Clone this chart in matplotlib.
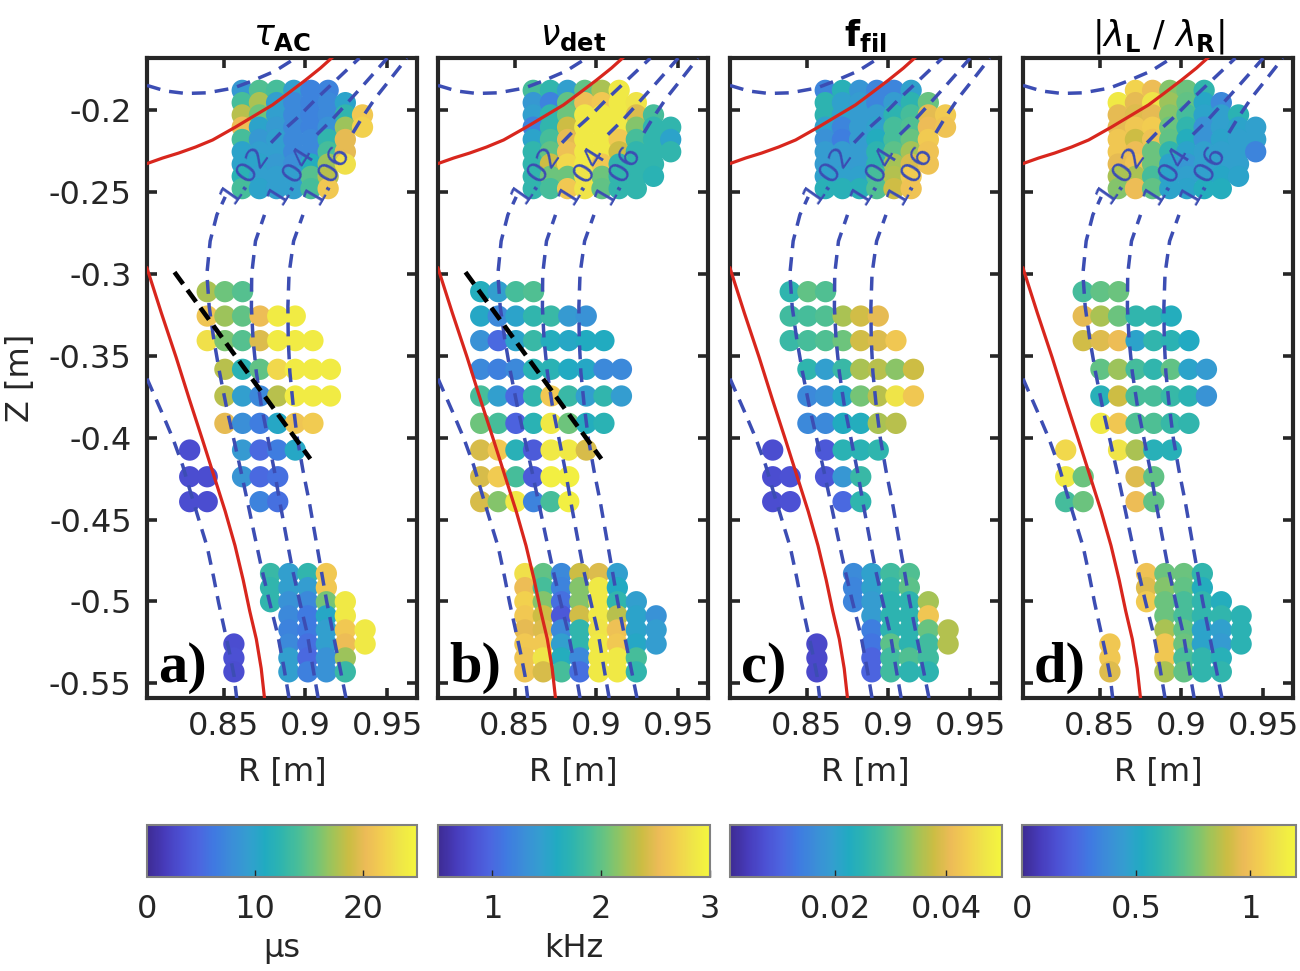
import numpy as np
import matplotlib
matplotlib.use("Agg")
import matplotlib.pyplot as plt
from matplotlib.colors import LinearSegmentedColormap, Normalize
from matplotlib.cm import ScalarMappable

plt.rcParams['font.family'] = ['DejaVu Sans']
plt.rcParams['mathtext.fontset'] = 'dejavusans'
plt.rcParams['axes.unicode_minus'] = False

nan = np.nan

# ---------------- text / colour scales ----------------
panel_titles = [r'$\tau_{\mathbf{AC}}$', r'$\nu_{\mathbf{det}}$',
                r'$\mathbf{f_{fil}}$', r'$|\lambda_{\mathbf{L}}\ /\ \lambda_{\mathbf{R}}|$']
panel_letters = ['a)', 'b)', 'c)', 'd)']
cbar_ranges = [(0.0, 25.0), (0.5, 3.0), (0.001, 0.05), (0.0, 1.2)]
cbar_ticks = [[0, 10, 20], [1, 2, 3], [0.02, 0.04], [0, 0.5, 1]]
cbar_ticklabels = [['0', '10', '20'], ['1', '2', '3'], ['0.02', '0.04'], ['0', '0.5', '1']]
cbar_units = ['μs', 'kHz', '', '']
x_ticks = [0.85, 0.9, 0.95]
x_ticklabels = ['0.85', '0.9', '0.95']
y_ticks = [-0.55, -0.5, -0.45, -0.4, -0.35, -0.3, -0.25, -0.2]
y_ticklabels = ['-0.55', '-0.5', '-0.45', '-0.4', '-0.35', '-0.3', '-0.25', '-0.2']
contour_labels = ['1.02', '1.04', '1.06']

# ---------------- probe grids (R, Z in m) ----------------
top_R = [0.8614, 0.8719, 0.8824, 0.8929, 0.9034, 0.9139, 0.9244, 0.9349, 0.9454]
top_Z = [-0.1880, -0.1955, -0.2030, -0.2105, -0.2180, -0.2255, -0.2330, -0.2405, -0.2480]
mid_R = [0.8293, 0.8400, 0.8508, 0.8616, 0.8723, 0.8831, 0.8938, 0.9046, 0.9153]
mid_Z = [-0.3109, -0.3258, -0.3408, -0.3583, -0.3746, -0.3913, -0.4076, -0.4239, -0.4391]
bot_R = [0.8563, 0.8675, 0.8787, 0.8899, 0.9015, 0.9128, 0.9244, 0.9365]
bot_Z = [-0.4830, -0.4916, -0.5002, -0.5088, -0.5174, -0.5260, -0.5345, -0.5430]

# ---------------- a) tau_AC [us] ----------------
tau_top = [  # one list per R column (top_R), entries along top_Z
    [8.8, 13.8, 18.0, 20.5, 13.8, 10.0, 10.0, 12.0, 13.8],
    [14.3, 17.5, 15.5, 10.0, 8.8, 9.5, 10.0, 9.5, 10.0],
    [13.8, 9.5, 9.5, 9.0, 9.5, 9.5, 9.0, 9.5, 9.5],
    [9.5, 7.5, 7.5, 7.5, 7.5, 7.5, 8.0, 9.5, 9.5],
    [7.0, 7.0, 7.0, 7.0, 7.5, 7.5, 11.3, 14.5, 13.8],
    [7.0, 7.5, 7.5, 8.3, 12.5, 13.8, 17.0, 18.0, 21.3],
    [nan, 10.0, 12.5, 17.0, 20.0, 20.0, 23.0, nan, nan],
    [nan, nan, 21.3, 22.0, nan, nan, nan, nan, nan],
    [nan, nan, nan, nan, nan, nan, nan, nan, nan],
]
tau_mid = [  # one list per Z row (mid_Z), entries along mid_R
    [nan, 17.5, 15.5, 14.5, nan, nan, nan, nan, nan],
    [nan, 21.0, 17.0, 15.0, 20.5, 24.0, 24.0, nan, nan],
    [nan, 23.0, 16.0, 14.5, 19.5, 24.0, 24.0, 24.0, nan],
    [nan, nan, 18.0, 12.0, 15.0, 22.5, 24.0, 24.0, 24.0],
    [nan, nan, 18.0, 9.5, 7.5, 18.0, 24.0, 24.0, 24.0],
    [nan, nan, 20.0, 8.0, 6.5, 10.5, 21.0, 21.5, nan],
    [3.0, nan, nan, 9.0, 5.0, 6.5, 10.5, nan, nan],
    [3.0, 3.0, nan, 8.5, 5.0, 5.5, nan, nan, nan],
    [3.0, 3.0, nan, nan, 7.0, 5.5, nan, nan, nan],
]
tau_bot = [  # one list per R column (bot_R), entries along bot_Z
    [nan, nan, nan, nan, nan, 3.0, 3.2, 3.0],
    [nan, nan, nan, nan, nan, nan, nan, nan],
    [13.0, 12.5, 12.5, nan, nan, nan, nan, nan],
    [9.5, 9.5, 8.3, 7.5, 7.0, 7.5, 9.5, 9.5],
    [12.5, 9.3, 7.5, 6.3, 6.3, 5.5, 5.0, 6.8],
    [21.3, 21.3, 15.8, 10.5, 9.5, 9.5, 8.3, 8.3],
    [nan, nan, 23.8, 23.8, 21.3, 20.5, 17.0, 13.0],
    [nan, nan, nan, nan, 23.8, 23.8, nan, nan],
]

# ---------------- b) nu_det [kHz] ----------------
nu_top = [
    [1.88, 1.38, 1.45, 1.20, 1.50, 1.75, 1.75, 1.75, 1.75],
    [1.75, 1.20, 1.75, 1.75, 1.88, 2.00, 2.38, 2.05, 1.88],
    [1.45, 2.00, 2.05, 2.38, 2.50, 2.58, 2.75, 2.05, 2.63],
    [2.00, 2.58, 2.88, 2.88, 2.88, 2.88, 2.88, 2.83, 2.83],
    [2.25, 2.63, 2.88, 2.88, 2.88, 2.88, 2.63, 2.05, 2.00],
    [2.88, 2.88, 2.88, 2.88, 2.63, 2.38, 1.75, 1.75, 1.75],
    [nan, 2.83, 2.45, 2.13, 1.88, 1.75, 1.75, 1.75, 1.75],
    [nan, nan, 1.88, 1.75, 1.75, 1.75, 1.75, 1.70, nan],
    [nan, nan, nan, 1.75, 1.50, 1.75, nan, nan, nan],
]
nu_mid = [
    [1.63, 1.45, 1.88, 1.93, nan, nan, nan, nan, nan],
    [1.55, 1.25, 1.50, 1.75, 1.80, 1.40, 1.33, nan, nan],
    [1.33, 1.00, 1.50, 1.80, 1.63, 1.55, 1.60, 1.60, nan],
    [1.25, 1.18, 1.25, 1.70, 1.70, 1.58, 1.55, 1.25, 1.25],
    [1.88, 1.45, 1.00, 1.75, 2.63, 1.80, 1.45, 1.75, 1.43],
    [2.05, 1.88, 0.95, 1.70, 2.88, 2.05, 1.63, 1.70, nan],
    [2.43, 2.63, 1.68, 0.90, 2.88, 2.88, 2.43, nan, nan],
    [2.43, 2.65, 1.88, 0.90, 2.93, 2.93, nan, nan, nan],
    [2.43, 2.13, 2.88, 1.20, 1.88, 2.93, nan, nan, nan],
]
nu_bot = [
    [2.80, 2.55, 2.70, 2.63, 2.50, 2.63, 2.60, 2.60],
    [2.00, 1.88, 2.13, 2.38, 2.45, 2.63, 2.83, 2.43],
    [1.25, 1.20, 1.05, 0.88, 1.25, 1.45, 1.63, 1.88],
    [2.38, 2.13, 2.13, 2.40, 1.75, 1.75, 1.25, 1.05],
    [2.45, 2.88, 2.88, 2.88, 2.83, 2.88, 2.88, 2.88],
    [1.45, 1.58, 1.75, 2.30, 2.58, 2.63, 2.88, 2.88],
    [nan, nan, 1.45, 1.50, 1.50, 1.55, 1.88, 1.75],
    [nan, nan, nan, 1.33, 1.43, 1.43, nan, nan],
]

# ---------------- c) f_fil ----------------
ffil_top = [
    [0.015, 0.025, 0.025, 0.020, 0.017, 0.019, 0.019, 0.020, 0.024],
    [0.024, 0.020, 0.020, 0.015, 0.014, 0.019, 0.019, 0.020, 0.024],
    [0.018, 0.019, 0.019, 0.019, 0.019, 0.019, 0.019, 0.020, 0.024],
    [0.015, 0.015, 0.019, 0.020, 0.023, 0.025, 0.025, 0.028, 0.029],
    [0.015, 0.019, 0.025, 0.028, 0.028, 0.030, 0.035, 0.036, 0.038],
    [0.020, 0.025, 0.028, 0.029, 0.031, 0.035, 0.039, 0.043, 0.042],
    [nan, 0.031, 0.040, 0.041, 0.043, 0.042, 0.042, nan, nan],
    [nan, nan, 0.043, 0.042, nan, nan, nan, nan, nan],
    [nan, nan, nan, nan, nan, nan, nan, nan, nan],
]
ffil_mid = [
    [nan, 0.0255, 0.0304, 0.0290, nan, nan, nan, nan, nan],
    [nan, 0.0275, 0.0280, 0.0290, 0.0353, 0.0382, 0.0402, nan, nan],
    [nan, 0.0265, 0.0280, 0.0290, 0.0314, 0.0382, 0.0392, 0.0426, nan],
    [nan, nan, 0.0255, 0.0196, 0.0265, 0.0353, 0.0363, 0.0333, 0.0378],
    [nan, nan, 0.0157, 0.0167, 0.0216, 0.0319, 0.0363, 0.0466, 0.0426],
    [nan, nan, 0.0157, 0.0157, 0.0226, 0.0231, 0.0353, 0.0363, nan],
    [0.0069, nan, nan, 0.0084, 0.0245, 0.0245, 0.0255, nan, nan],
    [0.0069, 0.0074, nan, 0.0079, 0.0182, 0.0265, nan, nan, nan],
    [0.0069, 0.0074, nan, nan, 0.0108, 0.0255, nan, nan, nan],
]
ffil_bot = [
    [nan, nan, nan, nan, nan, 0.006, 0.006, 0.006],
    [nan, nan, nan, nan, nan, nan, nan, nan],
    [0.016, 0.015, 0.015, nan, nan, nan, nan, nan],
    [0.020, 0.020, 0.019, 0.019, 0.014, 0.0125, 0.010, 0.010],
    [0.0275, 0.026, 0.025, 0.025, 0.025, 0.030, 0.0275, 0.0275],
    [0.029, 0.030, 0.025, 0.025, 0.025, 0.025, 0.029, 0.025],
    [nan, nan, 0.035, 0.0425, 0.031, 0.0275, 0.0275, 0.025],
    [nan, nan, nan, nan, 0.036, 0.036, nan, nan],
]

# ---------------- d) |lambda_L / lambda_R| ----------------
lam_top = [
    [nan, 1.14, 0.96, 0.96, 1.02, 1.02, 0.96, 0.84, 0.78],
    [1.06, 0.96, 0.94, 1.02, 0.90, 0.98, 1.00, 0.84, 0.98],
    [0.98, 1.12, 0.96, 1.04, 1.00, 0.74, 0.74, 0.66, 0.72],
    [0.78, 0.82, 0.78, 0.74, 0.72, 0.60, 0.48, 0.48, 0.48],
    [0.74, 0.72, 0.66, 0.60, 0.54, 0.48, 0.42, 0.46, 0.48],
    [0.60, 0.50, 0.48, 0.40, 0.40, 0.46, 0.46, 0.46, 0.54],
    [nan, 0.36, 0.46, 0.46, 0.48, 0.46, 0.46, 0.50, 0.54],
    [nan, nan, 0.58, 0.48, 0.46, 0.46, 0.46, 0.48, nan],
    [nan, nan, nan, 0.46, 0.46, 0.34, nan, nan, nan],
]
lam_mid = [
    [nan, 0.66, 0.72, 0.74, nan, nan, nan, nan, nan],
    [nan, 0.96, 0.84, 0.74, 0.60, 0.60, 0.54, nan, nan],
    [nan, 0.91, 0.94, 0.98, 0.48, 0.60, 0.58, 0.52, nan],
    [nan, nan, 0.72, 0.82, 0.66, 0.60, 0.72, 0.48, 0.44],
    [nan, nan, 0.56, 0.90, 0.67, 0.67, 0.62, 0.58, 0.40],
    [nan, nan, 1.14, 1.02, 0.68, 0.68, 0.62, 0.60, nan],
    [1.08, nan, nan, 1.12, 0.84, 0.56, 0.56, nan, nan],
    [1.14, 0.74, nan, nan, 0.94, 0.72, nan, nan, nan],
    [0.66, 0.74, nan, nan, 0.98, 0.72, nan, nan, nan],
]
lam_bot = [
    [nan, nan, nan, nan, nan, 1.02, 1.02, 0.94],
    [nan, nan, nan, nan, nan, nan, nan, nan],
    [1.00, 0.94, 1.03, nan, nan, nan, nan, nan],
    [0.74, 0.78, 0.74, 0.74, 0.84, 1.02, 1.02, 0.84],
    [0.74, 0.72, 0.67, 0.67, 0.72, 0.74, 0.67, 0.72],
    [0.60, 0.54, 0.60, 0.60, 0.48, 0.48, 0.60, 0.60],
    [nan, nan, 0.54, 0.60, 0.46, 0.44, 0.56, 0.60],
    [nan, nan, nan, 0.58, 0.58, 0.58, nan, nan],
]

panel_data = [(tau_top, tau_mid, tau_bot), (nu_top, nu_mid, nu_bot),
              (ffil_top, ffil_mid, ffil_bot), (lam_top, lam_mid, lam_bot)]

# ---------------- flux surfaces (R, Z) ----------------
sep_upper_R = [0.8032, 0.8128, 0.8225, 0.8329, 0.8433, 0.8573, 0.8695, 0.8799, 0.8897, 0.9001, 0.9092, 0.9160]
sep_upper_Z = [-0.2327, -0.2293, -0.2263, -0.2226, -0.2183, -0.2104, -0.2031, -0.1969, -0.1896, -0.1817, -0.1744, -0.1683]
sep_lower_R = [0.8032, 0.8120, 0.8210, 0.8292, 0.8370, 0.8440, 0.8510, 0.8570, 0.8620, 0.8660, 0.8700, 0.8730, 0.8750]
sep_lower_Z = [-0.2965, -0.3240, -0.3510, -0.3770, -0.4010, -0.4230, -0.4450, -0.4660, -0.4870, -0.5060, -0.5230, -0.5410, -0.5590]
core_R = [0.8032, 0.8146, 0.8268, 0.8400, 0.8561, 0.8673, 0.8815, 0.8940]
core_Z = [-0.1850, -0.1884, -0.1899, -0.1895, -0.1866, -0.1823, -0.1762, -0.1683]
pfr_R = [0.8032, 0.8120, 0.8190, 0.8250, 0.8300, 0.8350, 0.8400, 0.8439, 0.8470, 0.8505, 0.8540, 0.8565, 0.8580]
pfr_Z = [-0.3640, -0.3840, -0.4005, -0.4170, -0.4340, -0.4505, -0.4668, -0.4851, -0.5010, -0.5170, -0.5330, -0.5460, -0.5590]
# rho = 1.02 / 1.04 / 1.06 (nan = gap for inline label)
rho102_R = [0.8900, 0.8868, 0.8830, 0.8780, 0.8733, 0.8690, 0.8648, 0.8605, 0.8560, 0.8515, 0.8475, 0.8440, 0.8412, 0.8398, 0.8418, 0.8459, 0.8510, nan,
            0.8790, 0.8856, 0.8958, 0.9059, 0.9242, 0.9330]
rho102_Z = [-0.559, -0.540, -0.520, -0.500, -0.480, -0.460, -0.440, -0.420, -0.400, -0.380, -0.360, -0.340, -0.320, -0.300, -0.280, -0.264, -0.253, nan,
            -0.2200, -0.2132, -0.2041, -0.1939, -0.1766, -0.1683]
rho104_R = [0.9078, 0.9045, 0.9012, 0.8965, 0.8920, 0.8882, 0.8845, 0.8810, 0.8770, 0.8730, 0.8700, 0.8680, 0.8670, 0.8672, 0.8695, 0.8750, nan,
            0.9070, 0.9161, 0.9263, 0.9364, 0.9500]
rho104_Z = [-0.559, -0.540, -0.520, -0.500, -0.480, -0.460, -0.440, -0.420, -0.400, -0.380, -0.360, -0.340, -0.320, -0.300, -0.280, -0.264, nan,
            -0.2150, -0.2061, -0.1949, -0.1837, -0.1683]
rho106_R = [0.9248, 0.9210, 0.9170, 0.9130, 0.9095, 0.9060, 0.9025, 0.8985, 0.8950, 0.8925, 0.8905, 0.8895, 0.8893, 0.8900, 0.8928, 0.8985, nan,
            0.9290, 0.9344, 0.9426, 0.9507, 0.9620]
rho106_Z = [-0.559, -0.540, -0.520, -0.500, -0.480, -0.460, -0.440, -0.420, -0.400, -0.380, -0.360, -0.340, -0.320, -0.300, -0.280, -0.264, nan,
            -0.2140, -0.2051, -0.1929, -0.1827, -0.1683]
label_R = [0.8630, 0.8915, 0.9135]
label_Z = [-0.2390, -0.2390, -0.2390]
label_rot = [55, 58, 60]
# black dashed cut (panels a, b)
cut_R = [0.8200, 0.9030]
cut_Z = [-0.2990, -0.4130]

# ---------------- parula colormap (MATLAB R2017a+) ----------------
parula_anchors = [
    (0.2422, 0.1504, 0.6603), (0.2706, 0.2147, 0.8364), (0.2813, 0.3006, 0.9414),
    (0.2699, 0.3892, 0.9906), (0.1963, 0.4847, 0.9892), (0.1687, 0.5703, 0.9359),
    (0.1248, 0.6459, 0.8883), (0.0297, 0.7082, 0.8163), (0.0964, 0.7500, 0.7120),
    (0.2161, 0.7843, 0.5923), (0.3909, 0.8029, 0.4354), (0.6174, 0.7876, 0.2612),
    (0.8203, 0.7498, 0.1535), (0.9728, 0.7298, 0.2394), (0.9892, 0.8136, 0.1885),
    (0.9597, 0.9135, 0.1423), (0.9769, 0.9839, 0.0805)]
_pa = np.array(parula_anchors)
_lum = (_pa @ np.array([0.30, 0.59, 0.11]))[:, None]
_pa = np.clip(_lum + (_pa - _lum) * 0.80, 0, 1)   # slightly muted, as printed
parula = LinearSegmentedColormap.from_list('parula', [tuple(c) for c in _pa], N=256)


def cluster_points(Rs, Zs, vals, by_rows):
    V = np.array(vals, dtype=float)
    if by_rows:
        RR, ZZ = np.meshgrid(Rs, Zs)
    else:
        ZZ, RR = np.meshgrid(Zs, Rs)
    m = ~np.isnan(V)
    return RR[m], ZZ[m], V[m]


# ---------------- layout (pixels) ----------------
W, H = 1300, 971
fig = plt.figure(figsize=(W / 100, H / 100), dpi=100)
ax_left_px = [147, 438, 730, 1023]
ax_w_px = 270
ax_top_px, ax_bot_px = 58, 698
cb_left_px = [147, 438, 730, 1022]
cb_right_px = [417, 710, 1002, 1296]
cb_top_px, cb_bot_px = 825, 877

dark = '#262626'
blue = '#3c4db3'
red = '#d8261d'

for i in range(4):
    l = ax_left_px[i]
    ax = fig.add_axes([l / W, 1 - ax_bot_px / H, ax_w_px / W, (ax_bot_px - ax_top_px) / H])
    vmin, vmax = cbar_ranges[i]
    top_v, mid_v, bot_v = panel_data[i]
    for (Rs, Zs, vals, rows) in [(top_R, top_Z, top_v, False),
                                  (mid_R, mid_Z, mid_v, True),
                                  (bot_R, bot_Z, bot_v, False)]:
        r, z, v = cluster_points(Rs, Zs, vals, rows)
        ax.scatter(r, z, c=v, cmap=parula, vmin=vmin, vmax=vmax, s=235,
                   edgecolors='none', zorder=2)

    dash_kw = dict(color=blue, lw=2.5, dashes=(4.0, 2.6), zorder=3)
    ax.plot(core_R, core_Z, **dash_kw)
    ax.plot(pfr_R, pfr_Z, **dash_kw)
    ax.plot(rho102_R, rho102_Z, **dash_kw)
    ax.plot(rho104_R, rho104_Z, **dash_kw)
    ax.plot(rho106_R, rho106_Z, **dash_kw)
    ax.plot(sep_upper_R, sep_upper_Z, color=red, lw=2.3, zorder=3)
    ax.plot(sep_lower_R, sep_lower_Z, color=red, lw=2.3, zorder=3)
    for k in range(3):
        ax.text(label_R[k], label_Z[k], contour_labels[k], color=blue, fontsize=21,
                rotation=label_rot[k], ha='center', va='center',
                rotation_mode='anchor', zorder=4)
    if i < 2:
        ax.plot(cut_R, cut_Z, color='black', lw=3.3, dashes=(3.2, 1.6), zorder=4)

    ax.text(0.040, 0.025, panel_letters[i], transform=ax.transAxes, fontsize=42,
            fontweight='bold', family='Liberation Serif', ha='left', va='baseline',
            color='black', zorder=5)

    ax.set_xlim(0.8032, 0.9682)
    ax.set_ylim(-0.55897, -0.16825)
    ax.set_xticks(x_ticks)
    ax.set_xticklabels(x_ticklabels)
    ax.set_yticks(y_ticks)
    if i == 0:
        ax.set_yticklabels(y_ticklabels)
    else:
        ax.set_yticklabels([])
    ax.tick_params(axis='both', direction='in', length=7, width=2.6, color=dark,
                   labelcolor=dark, labelsize=23, top=True, right=True)
    ax.tick_params(axis='x', pad=9)
    ax.tick_params(axis='y', pad=11)
    for sp in ax.spines.values():
        sp.set_linewidth(3.0)
        sp.set_color(dark)

    cx = (l + ax_w_px / 2) / W
    fig.text(cx, 1 - 36 / H, panel_titles[i], fontsize=25, ha='center', va='center',
             color='black')
    fig.text(cx, 1 - 772 / H, 'R [m]', fontsize=23, ha='center', va='center', color=dark)

    # colorbar
    cl, cr = cb_left_px[i], cb_right_px[i]
    cax = fig.add_axes([cl / W, 1 - cb_bot_px / H, (cr - cl) / W, (cb_bot_px - cb_top_px) / H])
    sm = ScalarMappable(norm=Normalize(vmin, vmax), cmap=parula)
    cb = fig.colorbar(sm, cax=cax, orientation='horizontal', ticks=cbar_ticks[i])
    cb.set_ticklabels(cbar_ticklabels[i])
    cax.tick_params(direction='in', length=5, width=1.0, color=dark, labelcolor=dark,
                    labelsize=23, pad=12, bottom=True, top=False)
    cb.outline.set_linewidth(1.5)
    cb.outline.set_edgecolor('#808080')
    if cbar_units[i]:
        fig.text((cl + cr) / 2 / W, 1 - 948 / H, cbar_units[i], fontsize=23,
                 ha='center', va='center', color=dark)

fig.text(20 / W, 1 - 378 / H, 'Z [m]', rotation=90, fontsize=23, ha='center',
         va='center', color=dark)

fig.savefig('out.png', dpi=100)
